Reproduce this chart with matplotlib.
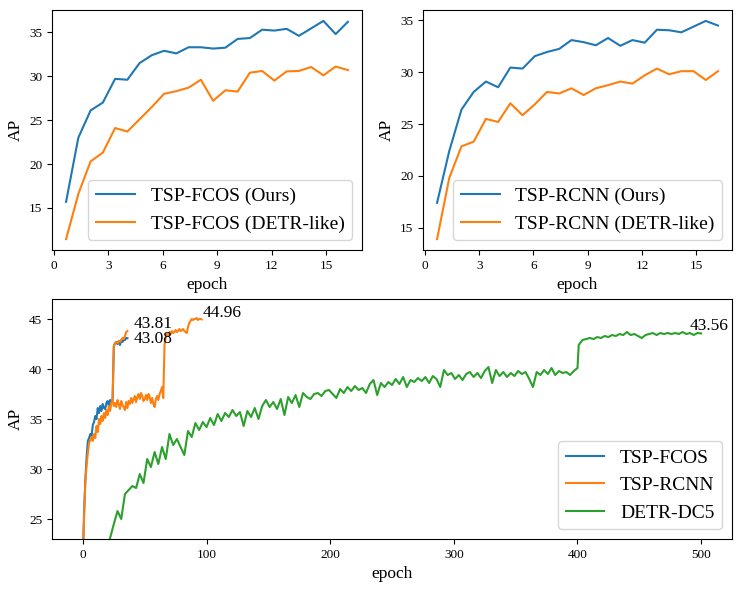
import numpy as np
import matplotlib
matplotlib.use('Agg')
import matplotlib.pyplot as plt
from matplotlib.ticker import MultipleLocator

plt.rcParams['font.family'] = ['Liberation Serif', 'DejaVu Serif']

# ---- top panels: 24 evaluation points ----
top_epochs = np.arange(1, 25) * 0.675

fcos_ours = [15.7, 23.0, 26.1, 27.0, 29.7, 29.6, 31.5, 32.4, 32.9, 32.6, 33.3, 33.3,
             33.15, 33.25, 34.25, 34.35, 35.3, 35.2, 35.4, 34.6, 35.45, 36.3, 34.8, 36.2]
fcos_detr = [11.45, 16.6, 20.3, 21.3, 24.1, 23.7, 25.1, 26.5, 28.0, 28.3, 28.7, 29.6,
             27.2, 28.4, 28.25, 30.4, 30.6, 29.5, 30.55, 30.6, 31.05, 30.1, 31.1, 30.7]

rcnn_ours = [17.4, 22.4, 26.4, 28.1, 29.1, 28.55, 30.45, 30.35, 31.55, 31.95, 32.25, 33.1,
             32.9, 32.6, 33.3, 32.55, 33.1, 32.85, 34.1, 34.05, 33.85, 34.4, 34.95, 34.5]
rcnn_detr = [13.9, 19.8, 22.85, 23.3, 25.5, 25.2, 27.0, 25.85, 26.9, 28.1, 27.95, 28.45,
             27.8, 28.45, 28.75, 29.1, 28.9, 29.7, 30.35, 29.8, 30.1, 30.1, 29.25, 30.1]

# ---- bottom panel ----
# TSP-FCOS, 36 epoch schedule (epochs 0..36)
fcos_36 = [21.5, 25.8, 29.0, 31.2, 32.8, 33.1, 33.5, 33.3, 34.4, 34.7, 35.3, 35.0,
           36.1, 35.6, 36.3, 35.8, 36.5, 36.1, 36.0, 36.6, 36.8, 36.3, 36.9, 36.7,
           37.0, 42.3, 42.6, 42.7, 42.5, 42.8, 42.4, 42.9, 42.7, 43.0, 42.9, 43.1, 43.08]
# TSP-RCNN, 36 epoch schedule (epochs 0..36)
rcnn_36 = [21.0, 25.5, 28.8, 30.4, 31.6, 32.6, 32.9, 33.2, 32.8, 33.5, 33.1, 34.3,
           33.7, 35.0, 34.5, 35.3, 34.8, 35.6, 35.1, 35.9, 35.4, 36.3, 35.8, 36.6,
           36.9, 42.2, 42.6, 42.7, 42.6, 42.8, 42.7, 42.9, 43.1, 43.0, 43.3, 43.7, 43.81]
# TSP-RCNN, 96 epoch schedule (continues from epoch 24)
rcnn_96 = [36.9, 36.3, 36.6, 36.2, 36.9, 36.5, 36.0, 36.8, 36.4, 36.2, 35.9, 36.7,
           36.1, 36.8, 36.5, 37.1, 36.6, 37.0, 37.3, 36.7, 37.2, 37.5, 37.0, 37.6,
           37.3, 36.8, 37.0, 37.4, 36.9, 37.5, 37.2, 36.6, 37.1, 36.5, 36.2, 37.0,
           37.3, 36.9, 37.5, 37.8, 38.2, 37.1, 42.4, 43.2, 43.5, 43.3, 43.7, 43.5,
           43.8, 43.6, 43.7, 43.9, 43.7, 43.8, 44.0, 43.8, 43.9, 44.0, 43.8, 43.7,
           43.6, 44.2, 44.6, 44.8, 45.0, 44.9, 45.0, 45.0, 45.1, 44.9, 45.0, 45.0, 44.96]

# DETR-DC5, 500 epoch schedule, sampled every 3 epochs
detr_a = [23.1, 24.5, 25.8, 25.0, 27.5, 27.9, 28.3, 28.1, 29.5, 28.6, 31.0, 30.2,
          31.7, 30.5, 32.2, 31.0, 33.5, 32.4, 33.0, 32.2, 31.4, 33.8, 33.2, 34.6,
          33.9, 34.7, 34.2, 35.1, 34.4, 35.5, 34.8, 35.6, 35.2, 35.9, 35.3, 35.7,
          34.3, 35.8, 35.2, 36.1, 35.0, 36.3, 36.9, 36.2, 36.7, 36.0, 37.0, 35.4,
          37.2, 36.6, 37.4, 36.2, 37.6, 37.2, 37.0, 37.5, 37.6, 37.3, 37.8, 37.9,
          37.5, 37.1, 38.0, 37.6, 38.2, 37.8, 38.3, 37.9, 38.1, 37.6, 38.5, 38.9,
          37.4, 38.6, 38.2, 38.7, 38.4, 39.0, 38.5, 39.2, 38.2, 38.9, 38.7, 39.1,
          38.8, 39.2, 38.6, 39.3, 39.0, 38.2, 39.9, 39.4, 39.6, 39.0, 39.4, 38.9,
          39.5, 39.7, 39.2, 39.6, 39.1, 39.8, 40.2, 38.6, 39.9, 39.3, 39.7, 39.2,
          39.6, 39.3, 39.8, 39.5, 39.7, 39.0, 38.2, 39.7, 39.4, 39.9, 39.5, 40.1,
          39.4, 39.8, 39.6, 39.7, 39.4, 39.8, 40.1]
detr_b = [42.4, 42.9, 43.0, 43.1, 43.0, 43.2, 43.1, 43.3, 43.2, 43.4, 43.3, 43.5,
          43.4, 43.7, 43.4, 43.5, 43.3, 43.1, 43.4, 43.5, 43.6, 43.4, 43.6, 43.5,
          43.6, 43.5, 43.6, 43.5, 43.7, 43.5, 43.6, 43.4, 43.6, 43.56]

ep_fcos = np.arange(len(fcos_36))
ep_rcnn = np.arange(len(rcnn_36))
ep_rcnn96 = np.arange(len(rcnn_96)) + 24
ep_detr = np.concatenate([22 + 3 * np.arange(len(detr_a)), 401 + 3 * np.arange(len(detr_b))])
detr = detr_a + detr_b

fig = plt.figure(figsize=(7.45, 5.92), dpi=100)
ax1 = fig.add_axes([0.0698, 0.5777, 0.4161, 0.4054])
ax2 = fig.add_axes([0.5678, 0.5777, 0.4148, 0.4054])
ax3 = fig.add_axes([0.0698, 0.0895, 0.9128, 0.4054])

tick_fs = 9.5
label_fs = 12.5
legend_fs = 14

for ax, ours, detr_like, name in [(ax1, fcos_ours, fcos_detr, 'TSP-FCOS'),
                                  (ax2, rcnn_ours, rcnn_detr, 'TSP-RCNN')]:
    ax.plot(top_epochs, ours, color='C0', label=name + ' (Ours)')
    ax.plot(top_epochs, detr_like, color='C1', label=name + ' (DETR-like)')
    ax.xaxis.set_major_locator(MultipleLocator(3))
    ax.tick_params(labelsize=tick_fs)
    ax.set_xlabel('epoch', fontsize=label_fs)
    ax.set_ylabel('AP', fontsize=label_fs)
    ax.legend(loc='lower right', fontsize=legend_fs)

ax3.plot(ep_fcos, fcos_36, color='C0', label='TSP-FCOS')
ax3.plot(ep_rcnn, rcnn_36, color='C1', label='TSP-RCNN')
ax3.plot(ep_rcnn96, rcnn_96, color='C1')
ax3.plot(ep_detr, detr, color='C2', label='DETR-DC5')
ax3.set_ylim(23, 47)
ax3.set_yticks([25, 30, 35, 40, 45])
ax3.tick_params(labelsize=tick_fs)
ax3.set_xlabel('epoch', fontsize=label_fs)
ax3.set_ylabel('AP', fontsize=label_fs)
ax3.legend(loc='lower right', fontsize=legend_fs)

ax3.text(41, 44.5, '%.2f' % rcnn_36[-1], fontsize=12.5, va='center')
ax3.text(41, 43.0, '%.2f' % fcos_36[-1], fontsize=12.5, va='center')
ax3.text(96.5, 45.6, '%.2f' % rcnn_96[-1], fontsize=12.5, va='center')
ax3.text(491, 44.3, '%.2f' % detr[-1], fontsize=12.5, va='center')

fig.savefig('out.png', dpi=100)
